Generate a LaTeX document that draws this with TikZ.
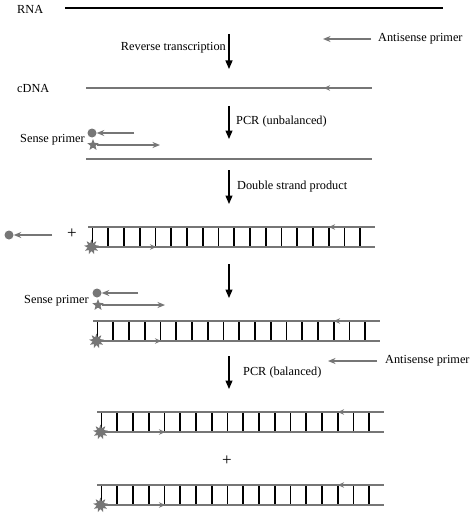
\documentclass[tikz,border=0pt]{standalone}
\usepackage{fontspec}
\setmainfont{Liberation Serif}
\usetikzlibrary{arrows.meta,shapes.geometric}
\definecolor{strand}{RGB}{118,118,118}
\tikzset{
  lbl/.style={font=\fontsize{12.3}{14}\selectfont, inner sep=0pt, text=black},
  plussign/.style={font=\fontsize{17}{18}\selectfont, inner sep=0pt, text=black},
  downarrow/.style={draw=black, line width=1.2pt, -{Triangle[length=8.5pt,width=7pt]}},
  gline/.style={draw=strand, line width=1.7pt},
  rungline/.style={draw=black, line width=1.7pt},
  primer/.style={draw=strand, line width=1.5pt, -{Stealth[length=7.5pt,width=6pt]}},
  tinytip/.style={draw=strand, line width=1.2pt, -{Stealth[length=6pt,width=5.5pt]}},
  dot/.style={circle, fill=strand, minimum size=9pt, inner sep=0pt},
  fivestar/.style={star, star points=5, star point ratio=2.3, fill=strand, minimum size=12pt, inner sep=0pt},
  burst/.style={star, star points=9, star point ratio=1.9, fill=strand, minimum size=15pt, inner sep=0pt}
}
\newcommand\dnaladder[3]{%
  \begin{scope}[shift={(#1,#2)}]
    \foreach \i in {0,...,17}{\draw[rungline] ({4.5+15.75*\i},0) -- ({4.5+15.75*\i},20);}
    \coordinate (#3tl) at (0,0);
    \coordinate (#3tr) at (286.5,0);
    \coordinate (#3bl) at (3,20);
    \coordinate (#3br) at (286.5,20);
    \draw[gline] (#3tl) -- (#3tr);
    \draw[gline] (#3bl) -- (#3br);
    \coordinate (#3ba) at (60,20); \coordinate (#3bb) at (68,20);
    \coordinate (#3ta) at (249,0); \coordinate (#3tb) at (241,0);
    \draw[tinytip] (#3ba) -- (#3bb);
    \draw[tinytip] (#3ta) -- (#3tb);
    \node[burst] (#3star) at (3.5,20) {};
  \end{scope}}
\begin{document}
\begin{tikzpicture}[x=1pt,y=-1pt]
\useasboundingbox[fill=white] (0,0) rectangle (474,516);
% RNA
\node[lbl, anchor=west] (rna) at (17,9) {RNA};
\coordinate (rnaL) at (65,8); \coordinate (rnaR) at (443,8);
\draw[draw=black, line width=1.8pt] (rnaL) -- (rnaR);
% antisense primer 1
\node[lbl, anchor=west] (as1) at (378,39) {Antisense primer};
\coordinate (as1a) at (371,39); \coordinate (as1b) at (323,39);
\draw[primer] (as1a) -- (as1b);
% reverse transcription
\coordinate (a1s) at (229,34); \coordinate (a1e) at (229,69);
\draw[downarrow] (a1s) -- (a1e);
\node[lbl, anchor=east] (rt) at (226,48) {Reverse transcription};
% cDNA
\node[lbl, anchor=west] (cdna) at (17,89) {cDNA};
\coordinate (cdL) at (86,88); \coordinate (cdR) at (372,88);
\draw[gline] (cdL) -- (cdR);
\coordinate (cdA) at (333,88); \coordinate (cdB) at (324,88);
\draw[tinytip] (cdA) -- (cdB);
% PCR unbalanced
\coordinate (a2s) at (229,106); \coordinate (a2e) at (229,139);
\draw[downarrow] (a2s) -- (a2e);
\node[lbl, anchor=west] (pcru) at (236,122) {PCR (unbalanced)};
% sense primer 1
\node[lbl, anchor=west] (sp1) at (20,140) {Sense primer};
\node[dot] (c1) at (92,133) {};
\coordinate (c1t) at (134,133);
\draw[primer] (c1t) -- (c1);
\node[fivestar] (s1) at (93,145) {};
\coordinate (s1t) at (160,145);
\draw[primer] (s1) -- (s1t);
\coordinate (l2L) at (86,159); \coordinate (l2R) at (372,159);
\draw[gline] (l2L) -- (l2R);
% double strand product
\coordinate (a3s) at (229,170); \coordinate (a3e) at (229,204);
\draw[downarrow] (a3s) -- (a3e);
\node[lbl, anchor=west] (dsp) at (237,187) {Double strand product};
% row with free primer
\node[dot] (c2) at (9,235) {};
\coordinate (c2t) at (52,235);
\draw[primer] (c2t) -- (c2);
\node[plussign] (plus1) at (72,234) {+};
\dnaladder{88}{227}{L1}
% arrow 4
\coordinate (a4s) at (229,264); \coordinate (a4e) at (229,298);
\draw[downarrow] (a4s) -- (a4e);
% sense primer 2
\node[lbl, anchor=west] (sp2) at (24,301) {Sense primer};
\node[dot] (c3) at (97,293) {};
\coordinate (c3t) at (138,293);
\draw[primer] (c3t) -- (c3);
\node[fivestar] (s3) at (98,305) {};
\coordinate (s3t) at (165,305);
\draw[primer] (s3) -- (s3t);
\dnaladder{93}{321}{L2}
% PCR balanced
\coordinate (a5s) at (229,356); \coordinate (a5e) at (229,389);
\draw[downarrow] (a5s) -- (a5e);
\node[lbl, anchor=west] (pcrb) at (243,373) {PCR (balanced)};
\node[lbl, anchor=west] (as2) at (385,361) {Antisense primer};
\coordinate (as2a) at (377,361); \coordinate (as2b) at (328,361);
\draw[primer] (as2a) -- (as2b);
\dnaladder{97}{412}{L3}
\node[plussign] (plus2) at (227,461) {+};
\dnaladder{97}{485}{L4}
\end{tikzpicture}
\end{document}
